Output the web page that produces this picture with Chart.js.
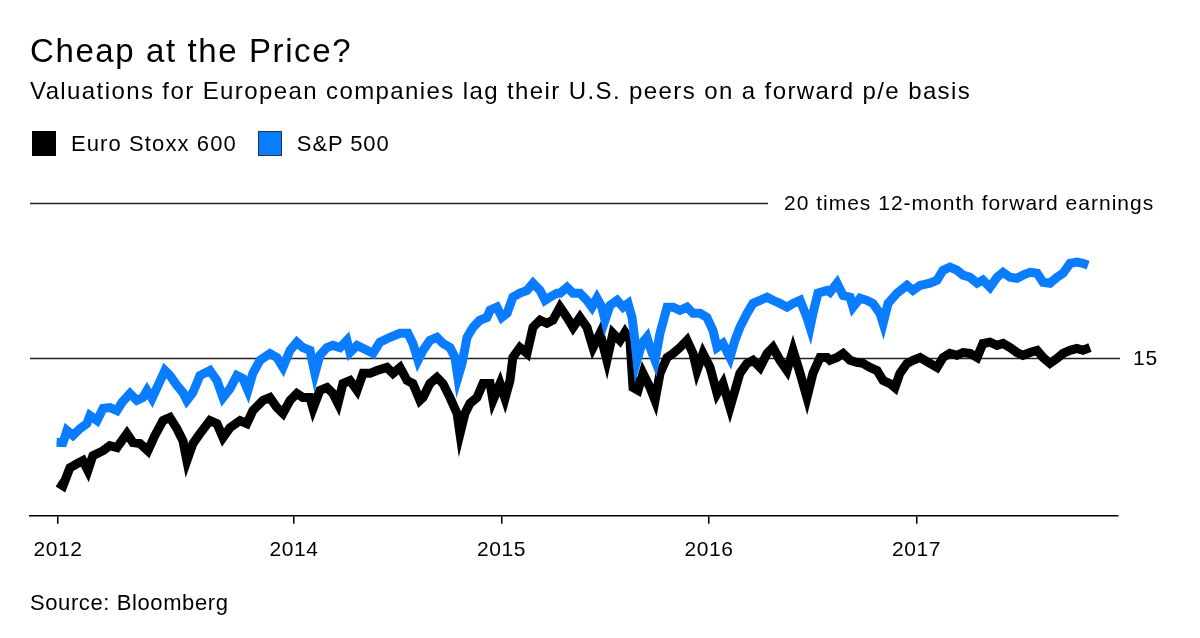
<!DOCTYPE html>
<html>
<head>
<meta charset="utf-8">
<script src="https://cdn.jsdelivr.net/npm/chart.js@4"></script>
<style>
  body { margin: 0; background: #fff; }
  .wrap { position: relative; width: 1200px; height: 638px; font-family: "Liberation Sans", Arial, sans-serif; color: #000; }
  .wrap canvas { position: absolute; left: 0; top: 0; }
  .txt { position: absolute; left: 30px; line-height: 1; white-space: nowrap; }
  .title { top: 34px; font-size: 33px; letter-spacing: 1.6px; }
  .sub { top: 79px; font-size: 24px; letter-spacing: 1.4px; }
  .legend { top: 131px; font-size: 22px; display: flex; align-items: center; left: 32px; }
  .sw { width: 24px; height: 25px; display: inline-block; margin-right: 15px; box-sizing: border-box; }
  .legend .lab1 { letter-spacing: 1.1px; margin-right: 21px; }
  .legend .lab2 { letter-spacing: 0.9px; }
  .source { top: 592px; font-size: 22px; letter-spacing: 0.6px; }
</style>
</head>
<body>
<div class="wrap">
  <canvas id="chart" width="1200" height="638"></canvas>
  <div class="txt title">Cheap at the Price?</div>
  <div class="txt sub">Valuations for European companies lag their U.S. peers on a forward p/e basis</div>
  <div class="txt legend">
    <span class="sw" style="background:#000"></span><span class="lab1">Euro Stoxx 600</span>
    <span class="sw" style="background:#0a7cff;border:1.5px solid #1d3550"></span><span class="lab2">S&amp;P 500</span>
  </div>
  <div class="txt source">Source: Bloomberg</div>
</div>
<script>
// forward p/e, dates as decimal years
const euroDates = [2012.863, 2012.887, 2012.920, 2012.954, 2012.983, 2013.007, 2013.031, 2013.080, 2013.113, 2013.147,
  2013.195, 2013.224, 2013.258, 2013.296, 2013.330, 2013.369, 2013.402, 2013.436, 2013.465, 2013.484,
  2013.513, 2013.547, 2013.595, 2013.629, 2013.658, 2013.692, 2013.740, 2013.773, 2013.802, 2013.851,
  2013.884, 2013.918, 2013.947, 2013.981, 2014.014, 2014.043, 2014.077, 2014.092, 2014.125, 2014.159,
  2014.188, 2014.212, 2014.236, 2014.270, 2014.304, 2014.333, 2014.366, 2014.400, 2014.448, 2014.477,
  2014.511, 2014.545, 2014.573, 2014.607, 2014.622, 2014.655, 2014.689, 2014.718, 2014.752, 2014.786,
  2014.800, 2014.824, 2014.848, 2014.882, 2014.911, 2014.945, 2014.959, 2014.993, 2015.017, 2015.041,
  2015.055, 2015.089, 2015.123, 2015.152, 2015.186, 2015.219, 2015.248, 2015.282, 2015.316, 2015.345,
  2015.378, 2015.412, 2015.441, 2015.475, 2015.508, 2015.537, 2015.571, 2015.595, 2015.619, 2015.634,
  2015.658, 2015.682, 2015.716, 2015.740, 2015.764, 2015.798, 2015.827, 2015.860, 2015.894, 2015.923,
  2015.942, 2015.971, 2016.005, 2016.039, 2016.067, 2016.101, 2016.125, 2016.149, 2016.183, 2016.212,
  2016.246, 2016.280, 2016.308, 2016.342, 2016.376, 2016.405, 2016.439, 2016.472, 2016.501, 2016.535,
  2016.569, 2016.583, 2016.617, 2016.646, 2016.680, 2016.713, 2016.742, 2016.776, 2016.810, 2016.839,
  2016.872, 2016.896, 2016.920, 2016.954, 2016.983, 2017.017, 2017.065, 2017.099, 2017.128, 2017.161,
  2017.195, 2017.224, 2017.258, 2017.292, 2017.320, 2017.354, 2017.388, 2017.417, 2017.451, 2017.484,
  2017.513, 2017.547, 2017.581, 2017.610, 2017.643, 2017.677, 2017.706, 2017.740, 2017.773, 2017.802,
  2017.836];
const euroPE = [11.00, 10.90, 11.48, 11.61, 11.71, 11.39, 11.87, 12.03, 12.19, 12.13,
  12.58, 12.29, 12.26, 12.03, 12.52, 13.00, 13.10, 12.74, 12.35, 11.71,
  12.26, 12.58, 13.00, 12.90, 12.45, 12.77, 13.00, 12.90, 13.32, 13.65,
  13.74, 13.42, 13.23, 13.65, 13.87, 13.74, 13.74, 13.39, 13.97, 14.06,
  13.87, 13.55, 14.19, 14.29, 13.97, 14.52, 14.52, 14.61, 14.71, 14.52,
  14.71, 14.29, 14.19, 13.65, 13.74, 14.19, 14.39, 14.19, 13.74, 13.23,
  12.58, 13.23, 13.55, 13.74, 14.19, 14.19, 13.65, 14.19, 13.71, 14.29,
  15.03, 15.35, 15.16, 16.00, 16.23, 16.13, 16.23, 16.65, 16.32, 16.00,
  16.32, 16.00, 15.35, 15.81, 14.94, 15.81, 15.58, 15.84, 15.58, 14.06,
  13.97, 14.52, 14.06, 13.65, 14.52, 15.03, 15.16, 15.35, 15.58, 15.16,
  14.61, 15.16, 14.71, 13.87, 14.19, 13.42, 13.97, 14.52, 14.84, 14.94,
  14.71, 15.16, 15.35, 14.94, 14.61, 15.26, 14.52, 13.74, 14.52, 15.03,
  15.03, 14.94, 15.03, 15.16, 14.94, 14.87, 14.84, 14.71, 14.61, 14.29,
  14.19, 14.06, 14.52, 14.84, 14.94, 15.03, 14.84, 14.71, 15.03, 15.16,
  15.10, 15.19, 15.16, 15.03, 15.48, 15.52, 15.42, 15.48, 15.35, 15.19,
  15.10, 15.19, 15.26, 15.03, 14.84, 15.00, 15.16, 15.26, 15.32, 15.26,
  15.35];

const spxDates = [2012.856, 2012.887, 2012.906, 2012.935, 2012.969, 2013.002, 2013.017, 2013.051, 2013.080, 2013.113,
  2013.147, 2013.171, 2013.210, 2013.243, 2013.272, 2013.292, 2013.316, 2013.340, 2013.378, 2013.402,
  2013.436, 2013.465, 2013.484, 2013.513, 2013.547, 2013.595, 2013.629, 2013.658, 2013.692, 2013.725,
  2013.754, 2013.778, 2013.802, 2013.836, 2013.884, 2013.918, 2013.947, 2013.981, 2014.014, 2014.043,
  2014.077, 2014.101, 2014.125, 2014.159, 2014.188, 2014.222, 2014.255, 2014.270, 2014.304, 2014.352,
  2014.381, 2014.414, 2014.463, 2014.511, 2014.549, 2014.573, 2014.598, 2014.622, 2014.655, 2014.689,
  2014.718, 2014.752, 2014.776, 2014.790, 2014.810, 2014.834, 2014.863, 2014.896, 2014.930, 2014.945,
  2014.978, 2015.002, 2015.027, 2015.055, 2015.089, 2015.123, 2015.152, 2015.186, 2015.210, 2015.234,
  2015.267, 2015.282, 2015.316, 2015.345, 2015.378, 2015.412, 2015.436, 2015.460, 2015.484, 2015.499,
  2015.523, 2015.557, 2015.586, 2015.610, 2015.629, 2015.643, 2015.653, 2015.677, 2015.701, 2015.716,
  2015.740, 2015.764, 2015.798, 2015.827, 2015.860, 2015.894, 2015.923, 2015.957, 2015.990, 2016.019,
  2016.039, 2016.067, 2016.101, 2016.125, 2016.149, 2016.183, 2016.212, 2016.246, 2016.280, 2016.308,
  2016.342, 2016.376, 2016.405, 2016.439, 2016.472, 2016.487, 2016.501, 2016.525, 2016.569, 2016.583,
  2016.617, 2016.646, 2016.680, 2016.694, 2016.728, 2016.761, 2016.790, 2016.824, 2016.839, 2016.863,
  2016.906, 2016.954, 2016.983, 2017.017, 2017.065, 2017.099, 2017.128, 2017.161, 2017.195, 2017.224,
  2017.258, 2017.292, 2017.320, 2017.354, 2017.388, 2017.417, 2017.451, 2017.484, 2017.513, 2017.547,
  2017.581, 2017.610, 2017.643, 2017.677, 2017.706, 2017.740, 2017.773, 2017.802, 2017.827];
const spxPE = [12.30, 12.29, 12.68, 12.52, 12.74, 12.90, 13.16, 13.00, 13.39, 13.42,
  13.32, 13.58, 13.87, 13.65, 13.74, 13.97, 13.71, 14.06, 14.61, 14.45,
  14.13, 13.90, 13.65, 13.90, 14.45, 14.61, 14.29, 13.74, 14.03, 14.45,
  14.35, 13.97, 14.52, 14.94, 15.16, 15.03, 14.71, 15.26, 15.52, 15.35,
  15.26, 14.52, 15.10, 15.35, 15.42, 15.35, 15.58, 15.19, 15.42, 15.26,
  15.16, 15.52, 15.68, 15.81, 15.81, 15.48, 14.94, 15.26, 15.58, 15.68,
  15.48, 15.35, 15.03, 14.39, 14.84, 15.68, 16.00, 16.23, 16.32, 16.55,
  16.65, 16.32, 16.45, 16.97, 17.10, 17.19, 17.42, 17.19, 16.87, 16.97,
  17.10, 17.10, 17.29, 17.10, 17.10, 16.87, 16.65, 16.94, 16.65, 16.23,
  16.71, 16.87, 16.65, 16.77, 16.32, 15.58, 14.94, 15.48, 15.68, 15.35,
  14.94, 15.81, 16.65, 16.65, 16.55, 16.65, 16.45, 16.45, 16.32, 15.90,
  15.35, 15.48, 15.03, 15.58, 16.00, 16.45, 16.77, 16.87, 16.97, 16.87,
  16.77, 16.65, 16.77, 16.87, 16.32, 16.00, 16.45, 17.10, 17.19, 17.13,
  17.42, 17.03, 16.97, 16.65, 16.94, 16.87, 16.77, 16.45, 16.13, 16.77,
  17.10, 17.35, 17.19, 17.35, 17.42, 17.52, 17.84, 17.94, 17.84, 17.68,
  17.61, 17.42, 17.52, 17.29, 17.61, 17.77, 17.61, 17.58, 17.68, 17.77,
  17.74, 17.45, 17.42, 17.61, 17.74, 18.06, 18.10, 18.06, 18.00];

const tickYears = [2012.863, 2014, 2015, 2016, 2017];
const tickLabels = ['2012', '2014', '2015', '2016', '2017'];
const refLevels = [15, 20];
const refLabels = ['15', '20 times 12-month forward earnings'];

const FONT = '"Liberation Sans", Arial, sans-serif';

const spacingPlugin = {
    id: 'spacing',
    beforeDraw(chart) {
        chart.ctx.letterSpacing = '0.6px';
    }
};

const refLinesPlugin = {
    id: 'refLines',
    beforeDatasetsDraw(chart) {
        const { ctx, chartArea, scales } = chart;
        ctx.save();
        ctx.strokeStyle = '#222';
        ctx.lineWidth = 1.5;
        ctx.fillStyle = '#000';
        ctx.font = '21px ' + FONT;
        ctx.textBaseline = 'middle';
        // 15 line runs across, label outside on the right
        let y = Math.round(scales.y.getPixelForValue(refLevels[0])) + 0.5;
        ctx.beginPath();
        ctx.moveTo(chartArea.left, y);
        ctx.lineTo(chartArea.right + 2, y);
        ctx.stroke();
        ctx.letterSpacing = '0.8px';
        ctx.textAlign = 'left';
        ctx.fillText(refLabels[0], chartArea.right + 15, y + 1);
        // 20 line stops before its label
        y = Math.round(scales.y.getPixelForValue(refLevels[1])) + 0.5;
        ctx.letterSpacing = '1px';
        ctx.textAlign = 'left';
        const textLeft = chartArea.left + 754;
        ctx.fillText(refLabels[1], textLeft, y + 1);
        ctx.beginPath();
        ctx.moveTo(chartArea.left, y);
        ctx.lineTo(textLeft - 16, y);
        ctx.stroke();
        ctx.restore();
    }
};

const ctx = document.getElementById('chart').getContext('2d');
new Chart(ctx, {
    type: 'line',
    data: {
        datasets: [{
            label: 'S&P 500',
            data: spxDates.map((d, i) => ({ x: d, y: spxPE[i] })),
            borderColor: '#0a7cff',
            borderWidth: 9,
            pointRadius: 0,
            tension: 0
        }, {
            label: 'Euro Stoxx 600',
            data: euroDates.map((d, i) => ({ x: d, y: euroPE[i] })),
            borderColor: '#000',
            borderWidth: 9,
            pointRadius: 0,
            tension: 0
        }]
    },
    options: {
        responsive: false,
        animation: false,
        layout: { padding: { left: 30, right: 82, top: 184, bottom: 61 } },
        plugins: {
            legend: { display: false },
            tooltip: { enabled: false }
        },
        scales: {
            x: {
                type: 'linear',
                min: 2012.728,
                max: 2017.971,
                afterBuildTicks: (scale) => {
                    scale.ticks = tickYears.map(v => ({ value: v }));
                },
                grid: {
                    drawOnChartArea: false,
                    drawTicks: true,
                    tickLength: 8,
                    color: '#000',
                    lineWidth: 1.5
                },
                border: { display: true, color: '#000', width: 1.5 },
                ticks: {
                    autoSkip: false,
                    maxRotation: 0,
                    padding: 14,
                    color: '#000',
                    font: { family: FONT, size: 21 },
                    callback: (v, i) => tickLabels[i]
                }
            },
            y: {
                display: false,
                min: 9.935,
                max: 20.613
            }
        }
    },
    plugins: [spacingPlugin, refLinesPlugin]
});
</script>
</body>
</html>
